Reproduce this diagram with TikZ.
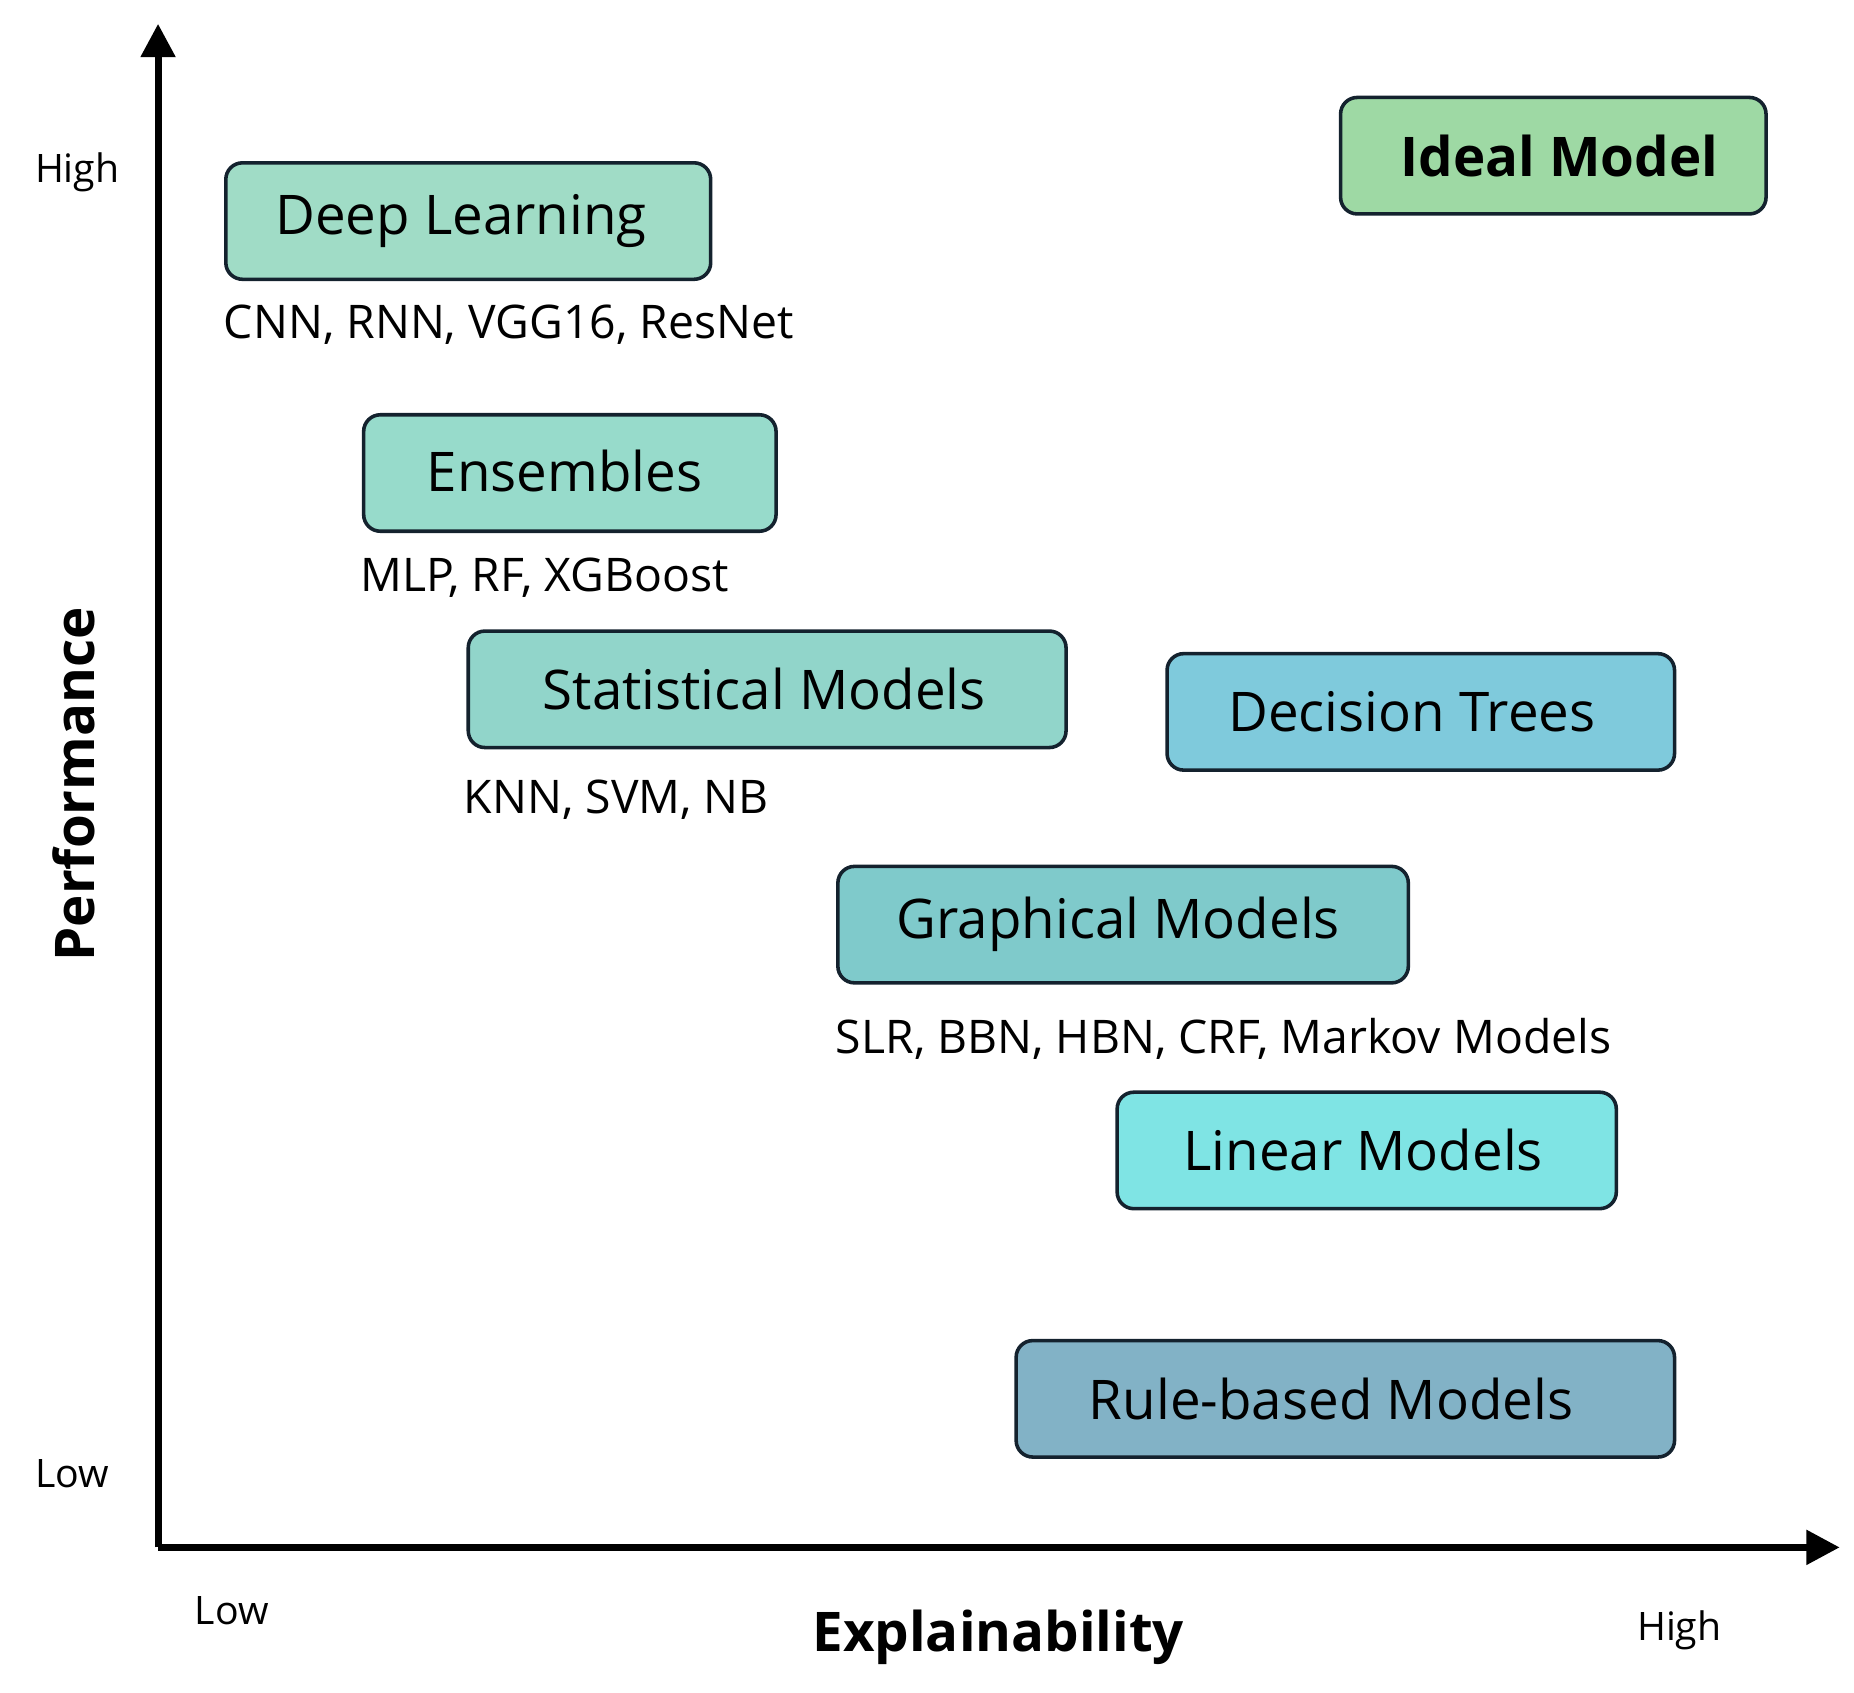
\documentclass[tikz,border=0pt]{standalone}
\usepackage{fontspec}
\setmainfont{Open Sans}
\usetikzlibrary{arrows.meta}
\definecolor{edge}{HTML}{14222E}
\definecolor{c0}{HTML}{9ED9A4}
\definecolor{c1}{HTML}{A0DCC6}\definecolor{c2}{HTML}{97DBCB}\definecolor{c3}{HTML}{91D5CA}
\definecolor{c4}{HTML}{7FCADC}\definecolor{c5}{HTML}{7FCACB}\definecolor{c6}{HTML}{7FE4E4}\definecolor{c7}{HTML}{82B2C6}
\tikzset{
 mbox/.style={draw=edge,line width=1.5pt,rounded corners=7pt},
 blabel/.style={font=\fontsize{23}{26}\selectfont,inner sep=0pt},
 sub/.style={anchor=west,font=\fontsize{19.5}{22}\selectfont,inner sep=0pt},
 tick/.style={font=\fontsize{16.5}{19}\selectfont,inner sep=0pt},
 axtitle/.style={font=\bfseries\fontsize{23}{26}\selectfont,inner sep=0pt},
}
\begin{document}
\begin{tikzpicture}[x=0.5pt,y=-0.5pt]
\useasboundingbox (0,0) rectangle (1560,1424);
\coordinate (O) at (133,1302);
\coordinate (Ytop) at (133,20);
\coordinate (Xend) at (1548,1302);
\draw[line width=3pt,-{Triangle[length=14pt,width=14pt]}] (O) -- (Ytop);
\draw[line width=3pt,-{Triangle[length=14pt,width=14pt]}] (O) -- (Xend);
\draw[mbox,fill=c0] (1128,82) rectangle (1486,180);
\node[blabel,font=\bfseries\fontsize{23}{26}\selectfont] (ideal) at (1312,131) {Ideal Model};
\draw[mbox,fill=c1] (190,137) rectangle (598,235);
\node[blabel] (dl) at (388,186) {Deep Learning};
\draw[mbox,fill=c2] (306,349) rectangle (653,447);
\node[blabel] (ens) at (475,396) {Ensembles};
\draw[mbox,fill=c3] (394,531) rectangle (897,629);
\node[blabel] (stat) at (643,580) {Statistical Models};
\draw[mbox,fill=c4] (982,550) rectangle (1409,648);
\node[blabel] (dt) at (1188,599) {Decision Trees};
\draw[mbox,fill=c5] (705,729) rectangle (1185,827);
\node[blabel] (gm) at (941,778) {Graphical Models};
\draw[mbox,fill=c6] (940,919) rectangle (1360,1017);
\node[blabel] (lm) at (1147,968) {Linear Models};
\draw[mbox,fill=c7] (855,1128) rectangle (1409,1226);
\node[blabel] (rb) at (1120,1177) {Rule-based Models};
\node[sub] (s1) at (188,273) {CNN, RNN, VGG16, ResNet};
\node[sub] (s2) at (303,486) {MLP, RF, XGBoost};
\node[sub] (s3) at (390,673) {KNN, SVM, NB};
\node[sub] (s4) at (703,874) {SLR, BBN, HBN, CRF, Markov Models};
\node[tick] (yh) at (65,145) {High};
\node[tick] (yl) at (61,1240) {Low};
\node[tick] (xl) at (195,1355) {Low};
\node[tick] (xh) at (1413,1372) {High};
\node[axtitle] (xt) at (840,1378) {Explainability};
\node[axtitle,rotate=90] (yt) at (62,660) {Performance};
\end{tikzpicture}
\end{document}
